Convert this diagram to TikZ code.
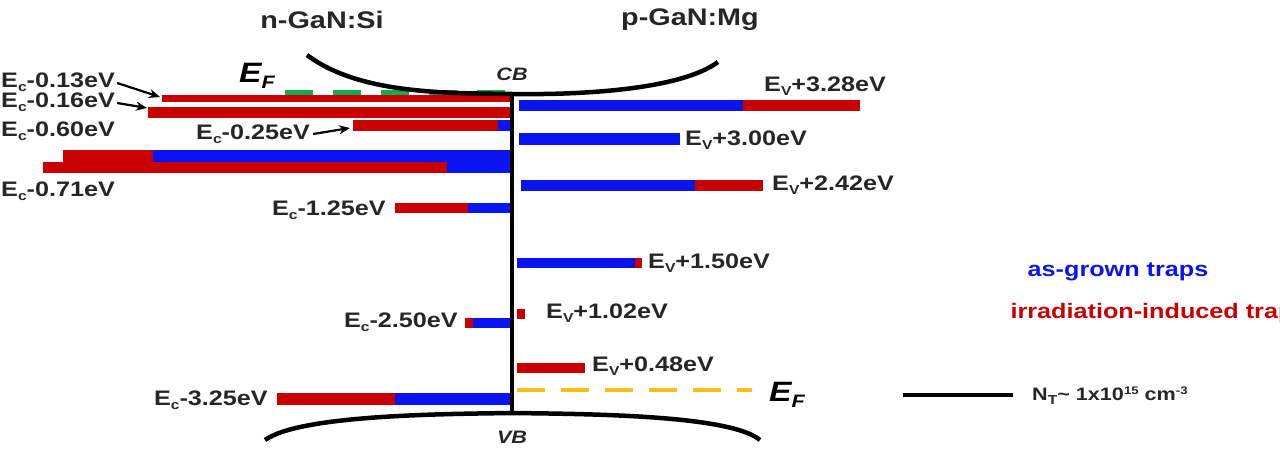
\documentclass[tikz,border=0pt]{standalone}
\usepackage{fontspec}
\setmainfont{Liberation Sans}[FakeStretch=1.2]
\usetikzlibrary{arrows.meta}
\definecolor{bblue}{RGB}{10,20,240}
\definecolor{rred}{RGB}{200,0,0}
\definecolor{ggreen}{RGB}{20,170,80}
\definecolor{yyel}{RGB}{250,190,20}
\newcommand{\lsub}[1]{\raisebox{-4pt}{\fontsize{13}{13}\selectfont #1}}
\newcommand{\lsup}[1]{\raisebox{6pt}{\fontsize{11}{11}\selectfont #1}}
\begin{document}
\begin{tikzpicture}[x=1pt,y=-1pt,
  lbl/.style={font=\bfseries\fontsize{21}{23}\selectfont,inner sep=0pt,text=black!85},
  ef/.style={font=\bfseries\itshape\fontsize{28}{30}\selectfont,inner sep=0pt},
  arr/.style={-{Stealth[length=11pt,width=9pt]},line width=2.2pt},
  curve/.style={line width=4.5pt,black}]
\useasboundingbox (0,0) rectangle (1280,452);
\newcommand{\tb}[5]{\fill[#5] (#1,#3) rectangle (#2,#4);}
% left
\tb{162}{510}{95}{102}{rred}
\tb{148}{510}{107}{118}{rred}
\tb{353}{498}{120}{131}{rred}\tb{498}{510}{120}{131}{bblue}
\tb{63}{153}{150}{162}{rred}\tb{153}{510}{150}{162}{bblue}
\tb{43}{447}{162}{173}{rred}\tb{447}{510}{162}{173}{bblue}
\tb{395}{468}{203}{213}{rred}\tb{468}{510}{203}{213}{bblue}
\tb{465}{473}{318}{328}{rred}\tb{473}{510}{318}{328}{bblue}
\tb{277}{395}{393}{405}{rred}\tb{395}{510}{393}{405}{bblue}
% right
\tb{519}{743}{100}{111}{bblue}\tb{743}{860}{100}{111}{rred}
\tb{519}{680}{133}{145}{bblue}
\tb{521}{695}{180}{191}{bblue}\tb{695}{763}{180}{191}{rred}
\tb{517}{635}{258}{268}{bblue}\tb{635}{642}{258}{268}{rred}
\tb{517}{525}{309}{319}{rred}
\tb{517}{585}{363}{373}{rred}
% Fermi levels
\draw[ggreen,line width=5pt,dash pattern=on 28pt off 20pt] (285,92) -- (512,92);
\draw[yyel,line width=4pt,dash pattern=on 28pt off 16pt] (517,390) -- (752,390);
% axis
\coordinate (top) at (512,92);
\coordinate (bot) at (512,415);
\draw[line width=3.5pt] (top) -- (bot);
% bands
\draw[curve] (307,55) .. controls (360,95) and (450,93) .. (512,94) .. controls (580,95) and (680,90) .. (718,62);
\draw[curve] (265,440) .. controls (300,415) and (440,414) .. (512,413) .. controls (590,414) and (730,415) .. (760,440);
% text
\node[lbl,font=\fontsize{24}{26}\selectfont\bfseries] (n) at (322,20) {n-GaN:Si};
\node[lbl,font=\fontsize{24}{26}\selectfont\bfseries] (p) at (690,20) {p-GaN:Mg};
\node[lbl,font=\bfseries\itshape\fontsize{18}{20}\selectfont] (cb) at (512,74) {CB};
\node[lbl,font=\bfseries\itshape\fontsize{18}{20}\selectfont] (vb) at (512,437) {VB};
\node[ef] (ef1) at (257,76) {E\raisebox{-6pt}{\fontsize{18}{18}\selectfont F}};
\node[ef] (ef2) at (787,395) {E\raisebox{-6pt}{\fontsize{18}{18}\selectfont F}};
\node[lbl,anchor=west] (l13) at (1,82) {E\lsub{c}-0.13eV};
\node[lbl,anchor=west] (l16) at (1,102) {E\lsub{c}-0.16eV};
\node[lbl,anchor=west] (l60) at (1,131) {E\lsub{c}-0.60eV};
\node[lbl,anchor=west] (l71) at (1,191) {E\lsub{c}-0.71eV};
\node[lbl,anchor=west] (l25) at (196,134) {E\lsub{c}-0.25eV};
\node[lbl,anchor=east] (l125) at (386,210) {E\lsub{c}-1.25eV};
\node[lbl,anchor=east] (l250) at (458,322) {E\lsub{c}-2.50eV};
\node[lbl,anchor=east] (l325) at (268,400) {E\lsub{c}-3.25eV};
\node[lbl,anchor=west] (r328) at (764,86) {E\lsub{V}+3.28eV};
\node[lbl,anchor=west] (r300) at (685,140) {E\lsub{V}+3.00eV};
\node[lbl,anchor=west] (r242) at (772,185) {E\lsub{V}+2.42eV};
\node[lbl,anchor=west] (r150) at (648,263) {E\lsub{V}+1.50eV};
\node[lbl,anchor=west] (r102) at (546,313) {E\lsub{V}+1.02eV};
\node[lbl,anchor=west] (r048) at (592,366) {E\lsub{V}+0.48eV};
\coordinate (a13) at (160,97);
\coordinate (a16) at (147,108);
\coordinate (a25) at (350,128);
\draw[arr] (l13.east) ++(2,1) -- (a13);
\draw[arr] (l16.east) ++(2,1) -- (a16);
\draw[arr] (l25.east) ++(3,0) -- (a25);
% legend
\node[font=\bfseries\fontsize{21}{23}\selectfont,text=bblue] (lg1) at (1118,272) {as-grown traps};
\node[font=\bfseries\fontsize{21}{23}\selectfont,text=rred] (lg2) at (1159,313) {irradiation-induced traps};
\coordinate (k1) at (903,395);
\coordinate (k2) at (1013,395);
\draw[line width=4.5pt] (k1) -- (k2);
\node[lbl,anchor=west,font=\bfseries\fontsize{18}{20}\selectfont] (nt) at (1032,396) {N\lsub{T}\textasciitilde{} 1x10\lsup{15} cm\lsup{-3}};
\end{tikzpicture}
\end{document}
